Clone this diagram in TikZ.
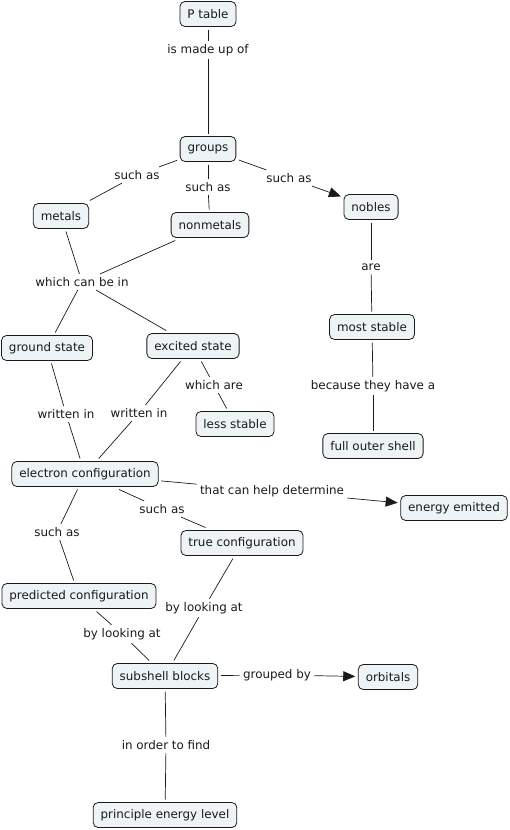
\documentclass[tikz,border=0pt]{standalone}
\usepackage{fontspec}
\setmainfont{DejaVu Sans}
\usetikzlibrary{arrows.meta}
\definecolor{boxfill}{HTML}{EEF4F6}
\definecolor{ink}{HTML}{1A1A1A}
\tikzset{
  concept/.style={draw=ink, line width=0.8pt, rounded corners=5pt, fill=boxfill, font=\fontsize{11.9}{13}\selectfont, text=ink, inner xsep=7.5pt, minimum height=25pt, outer sep=3pt},
  lbl/.style={font=\fontsize{11.9}{13}\selectfont, text=ink, inner sep=1pt, outer sep=2.5pt},
  link/.style={draw=ink, line width=0.7pt},
  arr/.style={link, -{Triangle[length=12pt,width=10pt]}}
}
\begin{document}
\begin{tikzpicture}[x=1pt,y=-1pt]
\useasboundingbox (0,0) rectangle (510,830);
% concepts
\node[concept] (ptable) at (208,14) {P table};
\node[concept] (groups) at (208,149) {groups};
\node[concept] (metals) at (61,216) {metals};
\node[concept] (nonmetals) at (210,225) {nonmetals};
\node[concept] (nobles) at (371,207) {nobles};
\node[concept] (most) at (372,327) {most stable};
\node[concept] (full) at (373,446) {full outer shell};
\node[concept] (ground) at (47,348) {ground state};
\node[concept] (excited) at (193,346) {excited state};
\node[concept] (less) at (235,424) {less stable};
\node[concept] (ec) at (85,474) {electron configuration};
\node[concept] (energy) at (454,508) {energy emitted};
\node[concept] (true) at (242,543) {true configuration};
\node[concept] (pred) at (79,596) {predicted configuration};
\node[concept] (sub) at (165,676) {subshell blocks};
\node[concept] (orb) at (388,677) {orbitals};
\node[concept] (pel) at (165,815) {principle energy level};
% link labels
\node[lbl] (l1) at (208,50) {is made up of};
\node[lbl] (l2) at (137,175) {such as};
\node[lbl] (l3) at (208,187) {such as};
\node[lbl] (l4) at (289,178) {such as};
\node[lbl] (l5) at (82,282) {which can be in};
\node[lbl] (l6) at (371,267) {are};
\node[lbl] (l7) at (373,386) {because they have a};
\node[lbl] (l8) at (66,414) {written in};
\node[lbl] (l9) at (139,413) {written in};
\node[lbl] (l10) at (214,385) {which are};
\node[lbl] (l11) at (272,491) {that can help determine};
\node[lbl] (l12) at (162,509) {such as};
\node[lbl] (l13) at (57,532) {such as};
\node[lbl] (l14) at (204,608) {by looking at};
\node[lbl] (l15) at (122,634) {by looking at};
\node[lbl] (l16) at (277,675) {grouped by};
\node[lbl] (l17) at (166,745) {in order to find};
% connectors
\draw[link] (ptable) -- (l1);
\draw[link] (l1) -- (groups);
\draw[link] (groups) -- (l2);
\draw[link] (l2) -- (metals);
\draw[link] (groups) -- (l3);
\draw[link] (l3) -- (nonmetals);
\draw[link] (groups) -- (l4);
\draw[arr] (l4) -- (nobles);
\draw[link] (metals) -- (l5);
\draw[link] (nonmetals) -- (l5);
\draw[link] (l5) -- (ground);
\draw[link] (l5) -- (excited);
\draw[link] (nobles) -- (l6);
\draw[link] (l6) -- (most);
\draw[link] (most) -- (l7);
\draw[link] (l7) -- (full);
\draw[link] (ground) -- (l8);
\draw[link] (l8) -- (ec);
\draw[link] (excited) -- (l9);
\draw[link] (l9) -- (ec);
\draw[link] (excited) -- (l10);
\draw[link] (l10) -- (less);
\draw[link] (ec) -- (l11);
\draw[arr] (l11) -- (energy);
\draw[link] (ec) -- (l12);
\draw[link] (l12) -- (true);
\draw[link] (ec) -- (l13);
\draw[link] (l13) -- (pred);
\draw[link] (true) -- (l14);
\draw[link] (l14) -- (sub);
\draw[link] (pred) -- (l15);
\draw[link] (l15) -- (sub);
\draw[link] (sub) -- (l16);
\draw[arr] (l16) -- (orb);
\draw[link] (sub) -- (l17);
\draw[link] (l17) -- (pel);
\end{tikzpicture}
\end{document}
